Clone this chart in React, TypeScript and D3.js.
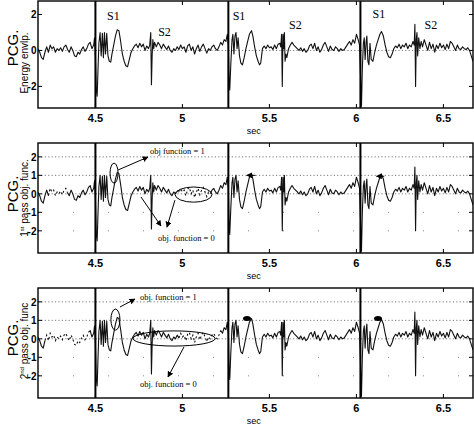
import React from 'react';
import * as d3 from 'd3';

// ---------- data ----------
const T_DOMAIN: [number, number] = [4.17, 6.67];
const V_DOMAIN: [number, number] = [-3.2, 2.75];
const X_TICKS = [4.5, 5, 5.5, 6, 6.5];
const X_TICK_LABELS = ['4.5', '5', '5.5', '6', '6.5'];
const Y_TICKS_TOP = [-2, 0, 2];
const Y_TICKS_LOWER = [-2, -1, 0, 1, 2];
const GRID_TOP = [0];
const GRID_LOWER = [0, 1, 2];
const GRID_SPARSE = [-1, -2];
const CYCLE_BOUNDS = [4.5, 5.264, 6.023];

// PCG signal [time (s), amplitude]
const SIGNAL: [number, number][] = [
  [4.17, 0.1], [4.18, -0.1], [4.19, -0.4], [4.2, -0.5], [4.21, -0.1], [4.22, 0.2], [4.23, -0.1], [4.24, 0.3],
  [4.25, 0.1], [4.26, 0.2], [4.27, -0.1], [4.28, 0.1], [4.29, 0.0], [4.3, 0.15], [4.31, -0.05], [4.32, 0.2],
  [4.33, 0.3], [4.34, 0.05], [4.35, -0.1], [4.36, 0.2], [4.37, 0.0], [4.38, -0.3], [4.39, -0.35], [4.4, -0.1],
  [4.41, -0.2], [4.42, 0.05], [4.43, 0.2], [4.44, -0.05], [4.45, 0.1], [4.46, 0.35], [4.47, 0.45], [4.48, 0.1],
  [4.49, 0.3], [4.495, 0.7], [4.5, -0.3], [4.505, -2.2], [4.51, -2.55], [4.515, -1.0], [4.52, 0.4], [4.527, 1.0],
  [4.533, -0.3], [4.54, 0.95], [4.546, -0.4], [4.552, 1.0], [4.558, -0.2], [4.565, 0.95], [4.572, -0.3], [4.58, -0.6],
  [4.588, -0.65], [4.595, -0.2], [4.605, 0.3], [4.615, 0.8], [4.625, 1.15], [4.635, 1.1], [4.645, 0.5], [4.655, -0.2],
  [4.665, -0.6], [4.675, -0.85], [4.685, -0.9], [4.695, -0.5], [4.705, -0.1], [4.715, 0.1], [4.725, 0.25], [4.735, 0.35],
  [4.745, 0.15], [4.755, 0.4], [4.765, 0.2], [4.775, 0.35], [4.785, 0.0], [4.795, 0.25], [4.805, 0.1], [4.812, 0.3],
  [4.818, 1.0], [4.822, -1.9], [4.826, -0.3], [4.83, 0.6], [4.835, 0.1], [4.84, 0.45], [4.85, 0.2], [4.86, 0.45],
  [4.87, 0.3], [4.88, 0.1], [4.89, 0.35], [4.9, 0.2], [4.91, 0.05], [4.92, 0.25], [4.93, 0.0], [4.94, -0.1],
  [4.95, 0.1], [4.96, 0.0], [4.97, 0.2], [4.98, 0.05], [4.99, 0.3], [5.0, 0.1], [5.01, 0.2], [5.02, -0.1],
  [5.03, 0.25], [5.04, 0.35], [5.05, 0.0], [5.06, 0.2], [5.07, -0.2], [5.08, 0.1], [5.09, 0.3], [5.1, -0.05],
  [5.11, 0.2], [5.12, 0.35], [5.13, 0.1], [5.14, -0.15], [5.15, 0.1], [5.16, 0.0], [5.17, 0.2], [5.18, 0.3],
  [5.19, 0.1], [5.2, 0.0], [5.21, 0.2], [5.22, 0.45], [5.23, 0.3], [5.24, 0.6], [5.25, 0.5], [5.258, 0.9],
  [5.264, 0.3], [5.268, -1.5], [5.272, -2.2], [5.278, -0.8], [5.285, 0.6], [5.29, 0.9], [5.296, -0.2], [5.302, 0.8],
  [5.308, 1.0], [5.314, 0.1], [5.32, 0.7], [5.328, -0.3], [5.336, -0.7], [5.345, -0.8], [5.355, -0.4], [5.365, 0.1],
  [5.375, 0.5], [5.385, 0.9], [5.397, 1.1], [5.405, 0.8], [5.415, 0.2], [5.425, -0.3], [5.435, -0.6], [5.443, -0.8],
  [5.45, -0.7], [5.455, -0.3], [5.46, 0.1], [5.47, 0.25], [5.48, 0.1], [5.49, 0.3], [5.5, 0.15], [5.51, 0.2],
  [5.52, 0.05], [5.53, 0.3], [5.54, 0.1], [5.55, 0.35], [5.56, 0.4], [5.565, 0.2], [5.57, 0.9], [5.574, -2.0],
  [5.578, 0.9], [5.582, 0.1], [5.586, 1.0], [5.59, -0.6], [5.595, -0.2], [5.6, -0.4], [5.61, 0.1], [5.62, 0.3],
  [5.63, 0.45], [5.64, 0.3], [5.65, 0.2], [5.66, 0.1], [5.67, 0.0], [5.68, 0.15], [5.69, -0.05], [5.7, 0.1],
  [5.71, -0.1], [5.72, 0.0], [5.73, 0.25], [5.74, 0.35], [5.75, 0.1], [5.76, 0.4], [5.77, 0.0], [5.78, 0.2],
  [5.79, -0.1], [5.8, 0.05], [5.81, 0.3], [5.82, 0.45], [5.83, 0.2], [5.84, -0.05], [5.85, 0.25], [5.86, 0.05],
  [5.87, 0.0], [5.88, 0.2], [5.89, 0.1], [5.9, -0.05], [5.91, 0.1], [5.92, 0.0], [5.93, 0.05], [5.94, 0.2],
  [5.95, 0.35], [5.96, 0.5], [5.97, 0.3], [5.98, 0.6], [5.99, 0.4], [6.0, 0.9], [6.01, 0.6], [6.018, 0.3],
  [6.024, -1.5], [6.029, -3.1], [6.034, -1.0], [6.04, 0.4], [6.045, 0.7], [6.05, -0.5], [6.056, 0.5], [6.06, 0.8],
  [6.066, -0.6], [6.072, -0.8], [6.078, 0.4], [6.085, -0.5], [6.095, -0.6], [6.105, -0.1], [6.115, 0.3], [6.125, 0.6],
  [6.135, 0.9], [6.144, 1.05], [6.155, 0.8], [6.165, 0.3], [6.175, -0.1], [6.185, -0.35], [6.195, -0.4], [6.205, -0.2],
  [6.215, 0.1], [6.225, 0.25], [6.235, 0.15], [6.245, 0.35], [6.255, 0.1], [6.265, 0.3], [6.275, 0.2], [6.285, 0.4],
  [6.295, 0.1], [6.305, 0.3], [6.315, 0.2], [6.325, 0.5], [6.332, 0.3], [6.336, 1.45], [6.34, -2.0], [6.344, 0.6],
  [6.348, 1.0], [6.352, -0.3], [6.358, 0.7], [6.365, 0.1], [6.372, 0.5], [6.38, 0.2], [6.39, 0.6], [6.4, 0.3],
  [6.41, 0.0], [6.42, 0.45], [6.43, 0.1], [6.44, 0.35], [6.45, -0.1], [6.46, 0.3], [6.47, 0.1], [6.48, 0.4],
  [6.49, 0.15], [6.5, 0.3], [6.51, 0.05], [6.52, 0.35], [6.53, 0.1], [6.54, 0.5], [6.55, 0.4], [6.56, 0.2],
  [6.57, 0.0], [6.58, 0.3], [6.59, 0.1], [6.6, 0.05], [6.61, 0.2], [6.62, 0.1], [6.63, 0.05], [6.64, 0.15],
  [6.65, 0.0], [6.66, -0.3], [6.67, -0.6],
];

// heart sound labels (top panel)
const SOUND_LABELS = ['S1', 'S2', 'S1', 'S2', 'S1', 'S2'];
const SOUND_T = [4.603, 4.897, 5.325, 5.649, 6.129, 6.428];
const SOUND_V = [1.67, 0.83, 1.72, 1.17, 1.8, 1.17];

// regions where the objective function is 0 (drawn broken)
const ZERO_REGIONS_1ST: [number, number][] = [[4.23, 4.34], [4.96, 5.16]];
const ZERO_REGIONS_2ND: [number, number][] = [[4.21, 4.46], [4.98, 5.22]];

// annotation geometry in data units
const ELLIPSES_1ST = [{ t: 4.607, v: 1.12, rt: 0.023, rv: 0.54 }, { t: 5.064, v: -0.04, rt: 0.106, rv: 0.41 }];
const ARROWS_1ST = [
  { t0: 4.63, v0: 1.29, t1: 4.802, v1: 1.99 },
  { t0: 4.762, v0: -0.17, t1: 4.877, v1: -1.74 },
  { t0: 4.957, v0: -0.34, t1: 4.911, v1: -1.8 },
  { t0: 5.42, v0: 1.0, t1: 5.37, v1: 1.0 },
  { t0: 6.16, v0: 0.95, t1: 6.115, v1: 0.95 },
];
const TEXTS_1ST = [{ s: 'obj function = 1', t: 4.814, v: 2.15 }, { s: 'obj. function = 0', t: 4.86, v: -2.53 }];

const ELLIPSES_2ND = [{ t: 4.615, v: 1.04, rt: 0.026, rv: 0.57 }, { t: 4.952, v: 0.02, rt: 0.236, rv: 0.41 }];
const ARROWS_2ND = [
  { t0: 4.641, v0: 1.72, t1: 4.727, v1: 2.15 },
  { t0: 5.009, v0: -0.44, t1: 4.917, v1: -2.06 },
];
const TEXTS_2ND = [{ s: 'obj. function = 1', t: 4.756, v: 2.1 }, { s: 'obj. function = 0', t: 4.756, v: -2.61 }];
const BLOBS_2ND = [{ t: 5.371, v: 1.1 }, { t: 6.124, v: 1.1 }];

// ---------- layout ----------
const LEFT = 38;
const RIGHT = 473;
const SANS = '"Liberation Sans", Arial, sans-serif';
const SERIF = '"Liberation Serif", "Times New Roman", serif';

type PanelProps = {
  id: string;
  top: number;
  h: number;
  yTicks: number[];
  grid: number[];
  sparse: boolean;
  zero: [number, number][];
  ylabel: React.ReactNode;
  ylabelY: number;
  pcgY: number;
  children?: (x: d3.ScaleLinear<number, number>, y: d3.ScaleLinear<number, number>) => React.ReactNode;
};

function Panel({ id, top, h, yTicks, grid, sparse, zero, ylabel, ylabelY, pcgY, children }: PanelProps) {
  const x = d3.scaleLinear().domain(T_DOMAIN).range([LEFT, RIGHT]);
  const y = d3.scaleLinear().domain(V_DOMAIN).range([top + h, top]);
  const bottom = top + h;
  const inZero = (t: number) => zero.some(([a, b]) => t >= a && t <= b);
  const edge = (t: number) => zero.some(([a, b]) => Math.abs(t - a) < 0.006 || Math.abs(t - b) < 0.006);
  const solid = d3.line<[number, number]>().x(d => x(d[0])).y(d => y(d[1])).defined(d => !inZero(d[0]) || edge(d[0]));
  const broken = d3.line<[number, number]>().x(d => x(d[0])).y(d => y(d[1])).defined(d => inZero(d[0]));
  return (
    <g>
      <defs>
        <clipPath id={`clip-${id}`}>
          <rect x={LEFT} y={top} width={RIGHT - LEFT} height={h} />
        </clipPath>
      </defs>
      {grid.map(g => (
        <line key={g} x1={LEFT} x2={RIGHT} y1={y(g)} y2={y(g)} stroke="#555" strokeWidth={0.8} strokeDasharray="1.2,2.2" />
      ))}
      {sparse && GRID_SPARSE.map(g => (
        <line key={g} x1={LEFT} x2={RIGHT} y1={y(g)} y2={y(g)} stroke="#777" strokeWidth={0.9} strokeDasharray="1,34" />
      ))}
      <g clipPath={`url(#clip-${id})`}>
        <path d={solid(SIGNAL) || ''} fill="none" stroke="#111" strokeWidth={1.1} strokeLinejoin="round" />
        <path d={broken(SIGNAL) || ''} fill="none" stroke="#111" strokeWidth={1.1} strokeDasharray="2,2.5" />
        {CYCLE_BOUNDS.map(b => (
          <line key={b} x1={x(b)} x2={x(b)} y1={top} y2={bottom} stroke="#000" strokeWidth={2} />
        ))}
      </g>
      <rect x={LEFT} y={top} width={RIGHT - LEFT} height={h} fill="none" stroke="#000" strokeWidth={1.4} />
      {X_TICKS.map(t => (
        <g key={t}>
          <line x1={x(t)} x2={x(t)} y1={bottom} y2={bottom - 4} stroke="#000" strokeWidth={1} />
          <line x1={x(t)} x2={x(t)} y1={top} y2={top + 4} stroke="#000" strokeWidth={1} />
        </g>
      ))}
      {X_TICKS.map((t, i) => (
        <text key={t} x={x(t)} y={bottom + 14} textAnchor="middle" fontFamily={SANS} fontWeight="bold" fontSize={11}>
          {X_TICK_LABELS[i]}
        </text>
      ))}
      {yTicks.map(v => (
        <g key={v}>
          <line x1={LEFT} x2={LEFT + 4} y1={y(v)} y2={y(v)} stroke="#000" strokeWidth={1} />
          <line x1={RIGHT} x2={RIGHT - 4} y1={y(v)} y2={y(v)} stroke="#000" strokeWidth={1} />
          <text x={LEFT - 1.5} y={y(v) + 4} textAnchor="end" fontFamily={SANS} fontWeight="bold" fontSize={10}>
            {v}
          </text>
        </g>
      ))}
      <text x={x(5.41)} y={bottom + 26} textAnchor="middle" fontFamily={SANS} fontSize={9}>sec</text>
      <text transform={`translate(18,${pcgY}) rotate(-90)`} textAnchor="middle" fontFamily={SANS} fontSize={15}>PCG.</text>
      <text transform={`translate(27.5,${ylabelY}) rotate(-90)`} textAnchor="middle" fontFamily={SANS} fontSize={10}>
        {ylabel}
      </text>
      {children && children(x, y)}
    </g>
  );
}

type Arrow = { t0: number; v0: number; t1: number; v1: number };
type Ell = { t: number; v: number; rt: number; rv: number };
type Txt = { s: string; t: number; v: number };

function Annotations({ x, y, ellipses, arrows, texts }: {
  x: d3.ScaleLinear<number, number>; y: d3.ScaleLinear<number, number>;
  ellipses: Ell[]; arrows: Arrow[]; texts: Txt[];
}) {
  return (
    <g>
      {ellipses.map((e, i) => (
        <ellipse key={i} cx={x(e.t)} cy={y(e.v)} rx={x(e.t + e.rt) - x(e.t)} ry={y(e.v - e.rv) - y(e.v)}
          fill="none" stroke="#000" strokeWidth={1} />
      ))}
      {arrows.map((a, i) => (
        <line key={i} x1={x(a.t0)} y1={y(a.v0)} x2={x(a.t1)} y2={y(a.v1)} stroke="#000" strokeWidth={1}
          markerEnd="url(#arrowhead)" />
      ))}
      {texts.map((t, i) => (
        <text key={i} x={x(t.t)} y={y(t.v)} fontFamily={SERIF} fontSize={8.5}>{t.s}</text>
      ))}
    </g>
  );
}

export default function App() {
  return (
    <svg width={474} height={429} style={{ display: 'block', position: 'absolute', left: 0, top: 0, background: '#fff' }}>
      <defs>
        <marker id="arrowhead" viewBox="0 0 10 10" refX="9" refY="5" markerWidth="6" markerHeight="6" orient="auto-start-reverse">
          <path d="M0,0 L10,5 L0,10 z" fill="#000" />
        </marker>
      </defs>
      <rect x={0} y={0} width={474} height={429} fill="#fff" />
      <Panel id="p1" top={1} h={107} yTicks={Y_TICKS_TOP} grid={GRID_TOP} sparse={false} zero={[]}
        ylabel="Energy envlp." ylabelY={63} pcgY={48}>
        {(x, y) => SOUND_LABELS.map((s, i) => (
          <text key={i} x={x(SOUND_T[i])} y={y(SOUND_V[i])} textAnchor="middle" fontFamily={SERIF} fontSize={12}>{s}</text>
        ))}
      </Panel>
      <Panel id="p2" top={143} h={110} yTicks={Y_TICKS_LOWER} grid={GRID_LOWER} sparse={true} zero={ZERO_REGIONS_1ST}
        ylabel={<>1<tspan dy={-4} fontSize={6}>st</tspan><tspan dy={4}> pass obj. func.</tspan></>} ylabelY={198} pcgY={194}>
        {(x, y) => <Annotations x={x} y={y} ellipses={ELLIPSES_1ST} arrows={ARROWS_1ST} texts={TEXTS_1ST} />}
      </Panel>
      <Panel id="p3" top={288} h={110} yTicks={Y_TICKS_LOWER} grid={GRID_LOWER} sparse={true} zero={ZERO_REGIONS_2ND}
        ylabel={<>2<tspan dy={-4} fontSize={6}>nd</tspan><tspan dy={4}> pass obj. func</tspan></>} ylabelY={341} pcgY={338}>
        {(x, y) => (
          <g>
            <Annotations x={x} y={y} ellipses={ELLIPSES_2ND} arrows={ARROWS_2ND} texts={TEXTS_2ND} />
            {BLOBS_2ND.map((b, i) => (
              <ellipse key={i} cx={x(b.t)} cy={y(b.v)} rx={4} ry={2.5} fill="#000" />
            ))}
          </g>
        )}
      </Panel>
    </svg>
  );
}
